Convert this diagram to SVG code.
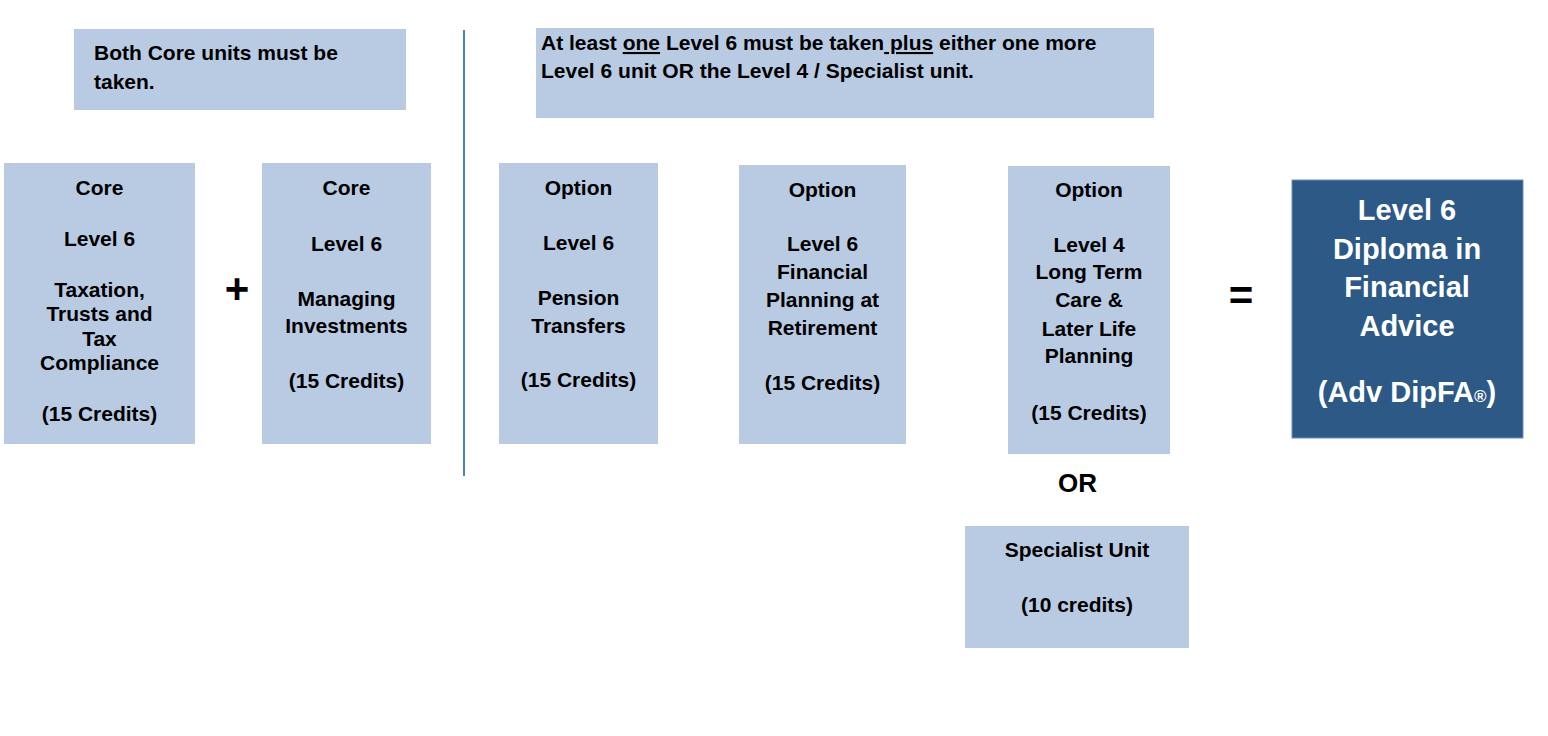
<svg xmlns="http://www.w3.org/2000/svg" width="1548" height="736" viewBox="0 0 1548 736">
<style>
.bx{fill:#b9cbe3;}
.dk{fill:#2c5985;stroke:#6d8fb6;stroke-width:1;}
text{font-family:"Liberation Sans",Arial,sans-serif;font-weight:bold;fill:#000;}
.t{font-size:21px;text-anchor:middle;}
.n{font-size:21px;}
.w{font-size:29px;text-anchor:middle;fill:#fff;}
.sym{font-size:42px;text-anchor:middle;}
</style>
<rect width="1548" height="736" fill="#fff"/>

<g id="note-core">
<rect class="bx" x="74" y="29" width="332" height="81"/>
<text class="n" x="94" y="60">Both Core units must be</text>
<text class="n" x="94" y="89">taken.</text>
</g>

<g id="note-option">
<rect class="bx" x="536" y="28" width="618" height="90"/>
<text class="n" x="541" y="50">At least <tspan text-decoration="underline">one</tspan> Level 6 must be taken<tspan text-decoration="underline"> plus</tspan> either one more</text>
<text class="n" x="541" y="78">Level 6 unit OR the Level 4 / Specialist unit.</text>
</g>

<g id="divider">
<line x1="464" y1="30" x2="464" y2="476" stroke="#4f81bd" stroke-width="2"/>
</g>

<g id="core1">
<rect class="bx" x="4" y="163" width="191" height="281"/>
<text class="t" x="99.5" y="195">Core</text>
<text class="t" x="99.5" y="246">Level 6</text>
<text class="t" x="99.5" y="297">Taxation,</text>
<text class="t" x="99.5" y="321">Trusts and</text>
<text class="t" x="99.5" y="346">Tax</text>
<text class="t" x="99.5" y="370">Compliance</text>
<text class="t" x="99.5" y="421">(15 Credits)</text>
</g>

<g id="plus">
<text class="sym" x="237" y="303">+</text>
</g>

<g id="core2">
<rect class="bx" x="262" y="163" width="169" height="281"/>
<text class="t" x="346.5" y="195">Core</text>
<text class="t" x="346.5" y="251">Level 6</text>
<text class="t" x="346.5" y="306">Managing</text>
<text class="t" x="346.5" y="333">Investments</text>
<text class="t" x="346.5" y="388">(15 Credits)</text>
</g>

<g id="option-pension">
<rect class="bx" x="499" y="163" width="159" height="281"/>
<text class="t" x="578.5" y="195">Option</text>
<text class="t" x="578.5" y="250">Level 6</text>
<text class="t" x="578.5" y="305">Pension</text>
<text class="t" x="578.5" y="333">Transfers</text>
<text class="t" x="578.5" y="387">(15 Credits)</text>
</g>

<g id="option-retirement">
<rect class="bx" x="739" y="165" width="167" height="279"/>
<text class="t" x="822.5" y="197">Option</text>
<text class="t" x="822.5" y="251">Level 6</text>
<text class="t" x="822.5" y="279">Financial</text>
<text class="t" x="822.5" y="307">Planning at</text>
<text class="t" x="822.5" y="335">Retirement</text>
<text class="t" x="822.5" y="390">(15 Credits)</text>
</g>

<g id="option-ltc">
<rect class="bx" x="1008" y="166" width="162" height="288"/>
<text class="t" x="1089" y="197">Option</text>
<text class="t" x="1089" y="252">Level 4</text>
<text class="t" x="1089" y="279">Long Term</text>
<text class="t" x="1089" y="307">Care &amp;</text>
<text class="t" x="1089" y="336">Later Life</text>
<text class="t" x="1089" y="363">Planning</text>
<text class="t" x="1089" y="420">(15 Credits)</text>
</g>

<g id="or">
<text x="1077.5" y="492" style="font-size:26px;text-anchor:middle;">OR</text>
</g>

<g id="specialist">
<rect class="bx" x="965" y="526" width="224" height="122"/>
<text class="t" x="1077" y="557">Specialist Unit</text>
<text class="t" x="1077" y="612">(10 credits)</text>
</g>

<g id="equals">
<text class="sym" x="1241" y="310">=</text>
</g>

<g id="diploma">
<rect class="dk" x="1292" y="180" width="231" height="258"/>
<text class="w" x="1407" y="220">Level 6</text>
<text class="w" x="1407" y="259">Diploma in</text>
<text class="w" x="1407" y="297">Financial</text>
<text class="w" x="1407" y="336">Advice</text>
<text class="w" x="1407" y="402">(Adv DipFA<tspan style="font-size:17px">®</tspan>)</text>
</g>

<g id="connectors"></g>
</svg>
